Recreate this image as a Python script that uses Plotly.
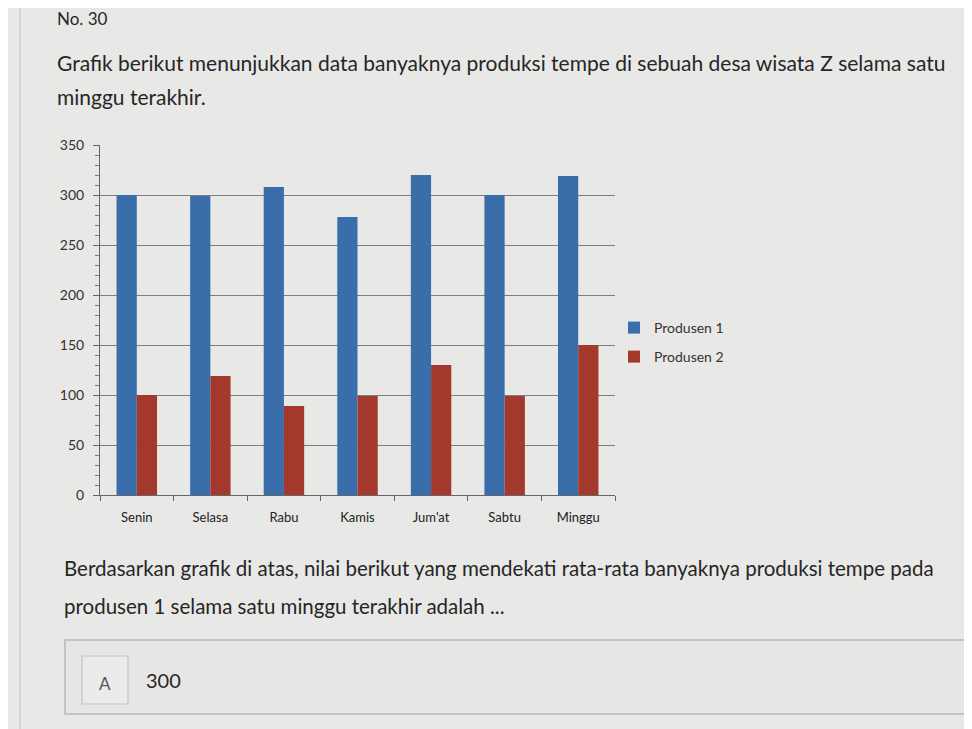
import plotly.graph_objects as go

# data
hari = ["Senin", "Selasa", "Rabu", "Kamis", "Jum'at", "Sabtu", "Minggu"]
produsen_1 = [300, 299, 308, 278, 320, 300, 319]
produsen_2 = [100, 119, 89, 99, 130, 99, 150]
y_ticks = [0, 50, 100, 150, 200, 250, 300, 350]

# page has an 8px body margin, so the figure is a bit smaller and shifted
OFF = 8
W, H = 972 - OFF, 729 - OFF
L, R, T, B = 100 - OFF, 615 - OFF, 145 - OFF, 495 - OFF   # plot area in pixels
bg = "#e8e8e6"
teks = "#262626"


def px_x(x):
    return (x - OFF - L) / (R - L)


def px_y(y):
    return (B - (y - OFF)) / (B - T)


fig = go.Figure()
fig.add_trace(go.Bar(x=hari, y=produsen_1, name="Produsen 1", legend="legend",
                     marker=dict(color="#3a6eaa", line=dict(width=0))))
fig.add_trace(go.Bar(x=hari, y=produsen_2, name="Produsen 2", legend="legend2",
                     marker=dict(color="#a3392d", line=dict(width=0))))

leg = dict(xanchor="left", yanchor="middle", bgcolor="rgba(0,0,0,0)",
           font=dict(size=14, color="#333", family="Lato"), itemwidth=30)
fig.update_layout(
    width=W, height=H,
    margin=dict(l=L, r=W - R, t=T, b=H - B),
    paper_bgcolor=bg, plot_bgcolor=bg,
    barmode="group", bargap=0.45, bargroupgap=0,
    font=dict(family="Lato", color=teks),
    legend=dict(x=px_x(614), y=px_y(328), **leg),
    legend2=dict(x=px_x(614), y=px_y(357), **leg),
    showlegend=True,
)
fig.update_xaxes(
    showline=True, linecolor="#666", linewidth=1,
    ticks="outside", tickson="boundaries", ticklen=5, tickcolor="#666",
    tickfont=dict(size=13, color="#222", family="Lato"),
    ticklabelstandoff=10,
    showgrid=False,
)
fig.update_yaxes(
    range=[0, 350], tickvals=y_ticks,
    showline=True, linecolor="#666", linewidth=1,
    ticks="outside", ticklen=6, tickcolor="#666",
    minor=dict(dtick=10, ticks="outside", ticklen=4, tickcolor="#777", showgrid=False),
    tickfont=dict(size=14, color="#333", family="Lato"),
    ticklabelstandoff=6,
    showgrid=True, gridcolor="#7e7e7e", gridwidth=1,
    zeroline=False,
)

# page text around the chart
anno = [
    ("No. 30", 55, 19, 17),
    ("Grafik berikut menunjukkan data banyaknya produksi tempe di sebuah desa wisata Z selama satu", 55, 62, 21),
    ("minggu terakhir.", 55, 96, 21),
    ("Berdasarkan grafik di atas, nilai berikut yang mendekati rata-rata banyaknya produksi tempe pada", 62, 568, 20.5),
    ("produsen 1 selama satu minggu terakhir adalah ...", 62, 606, 20.5),
    ("300", 144, 680, 20),
]
for t, x, y, s in anno:
    fig.add_annotation(text=t, x=px_x(x), y=px_y(y), xref="paper", yref="paper",
                       xanchor="left", yanchor="middle", showarrow=False,
                       font=dict(size=s, color=teks, family="Lato"))
fig.add_annotation(text="A", x=px_x(105), y=px_y(683), xref="paper", yref="paper",
                   xanchor="center", yanchor="middle",
                   showarrow=False, font=dict(size=17, color="#555", family="Lato"))

# answer box
fig.add_shape(type="rect", xref="paper", yref="paper",
              x0=px_x(65), x1=px_x(965), y0=px_y(640), y1=px_y(714),
              line=dict(color="#b8b8b6", width=1.5), fillcolor="#e6e6e4", layer="below")
fig.add_shape(type="rect", xref="paper", yref="paper",
              x0=px_x(82), x1=px_x(128), y0=px_y(656), y1=px_y(704),
              line=dict(color="#c4c4c2", width=1.2), fillcolor="#ebebe9", layer="below")
# left page edge strip
fig.add_shape(type="line", xref="paper", yref="paper",
              x0=px_x(20), x1=px_x(20), y0=px_y(0), y1=px_y(729),
              line=dict(color="#d4d4d2", width=2), layer="below")

fig.write_html("out.html")
